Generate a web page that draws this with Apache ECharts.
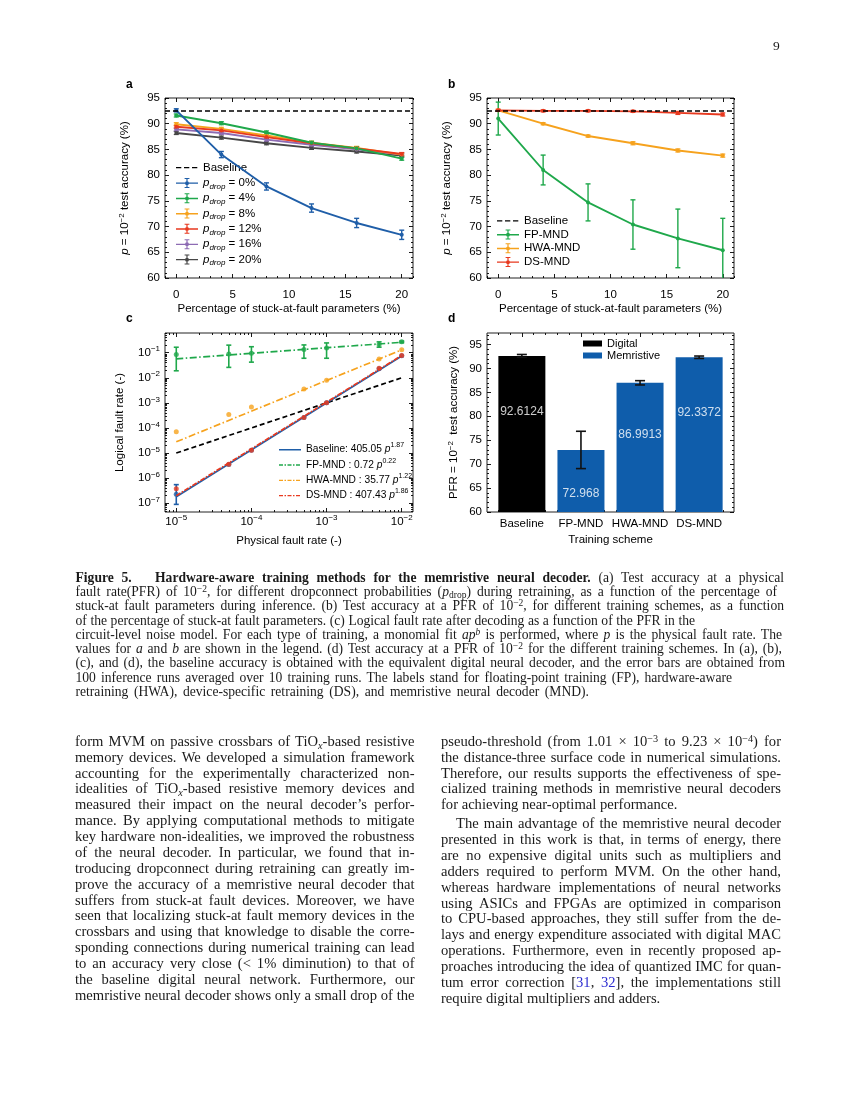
<!DOCTYPE html>
<html><head><meta charset="utf-8">
<script src="https://cdn.jsdelivr.net/npm/echarts@6/dist/echarts.min.js"></script>
<style>
html,body{margin:0;padding:0;background:#fff;}
#page{position:relative;width:850px;height:1100px;overflow:hidden;background:#fff;}
#chart{position:absolute;left:0;top:0;width:850px;height:1100px;}
.ln{position:absolute;font-family:"Liberation Serif","Times New Roman",serif;color:#1a1a1a;white-space:nowrap;}
.j{text-align:justify;text-align-last:justify;}
.ln sup{font-size:70%;vertical-align:0.42em;line-height:0;}
.ln sub{font-size:70%;vertical-align:-0.25em;line-height:0;}
.cite{color:#2b2bd0;}
</style></head>
<body><div id="page"><div id="chart"></div><div id="txt"></div></div>
<script>
// ---------------- DATA ----------------
// panel a / b : percentage of stuck-at-fault parameters
const pct = [0, 4, 8, 12, 16, 20];
const baselineAcc = 92.6124;
const accDrop0  = [92.6, 84.0, 77.8, 73.6, 70.7, 68.4];
const errDrop0  = [0.3, 0.6, 0.7, 0.8, 0.9, 0.9];
const accDrop4  = [91.6, 90.1, 88.3, 86.3, 85.2, 83.2];
const accDrop8  = [89.9, 89.0, 87.7, 86.3, 85.3, 84.0];
const accDrop12 = [89.4, 88.7, 87.4, 86.2, 85.2, 84.1];
const accDrop16 = [88.9, 88.2, 86.9, 85.9, 85.0, 84.0];
const accDrop20 = [88.2, 87.3, 86.2, 85.3, 84.6, 83.8];
const errDropSmall = [0.3, 0.3, 0.3, 0.3, 0.3, 0.3];

const accFP  = [91.0, 81.0, 74.7, 70.4, 67.7, 65.4];
const errFP  = [3.2, 2.9, 3.6, 4.8, 5.7, 6.2];
const accHWA = [92.6, 90.0, 87.6, 86.2, 84.8, 83.8];
const errHWA = [0.2, 0.2, 0.2, 0.3, 0.3, 0.3];
const accDS  = [92.6, 92.5, 92.5, 92.4, 92.1, 91.8];
const errDS  = [0.2, 0.2, 0.2, 0.2, 0.3, 0.3];

// panel c : physical vs logical fault rate
const pfr     = [1e-5, 5e-5, 1e-4, 5e-4, 1e-3, 5e-3, 1e-2];
const lfrBase = [2.3e-7, 3.5e-6, 1.3e-5, 2.6e-4, 1.0e-3, 2.3e-2, 7.5e-2];
const lfrBaseLo = [0.9e-7, 3.5e-6, 1.3e-5, 2.6e-4, 1.0e-3, 2.3e-2, 7.5e-2];
const lfrBaseHi = [5.5e-7, 3.5e-6, 1.3e-5, 2.6e-4, 1.0e-3, 2.3e-2, 7.5e-2];
const lfrFP   = [0.085, 0.088, 0.095, 0.135, 0.155, 0.21, 0.27];
const lfrFPLo = [0.019, 0.026, 0.042, 0.060, 0.060, 0.166, 0.25];
const lfrFPHi = [0.165, 0.200, 0.173, 0.204, 0.245, 0.270, 0.29];
const lfrHWA  = [7.0e-5, 3.4e-4, 6.8e-4, 3.6e-3, 8.0e-3, 5.6e-2, 1.3e-1];
const lfrDS   = [3.8e-7, 3.6e-6, 1.3e-5, 2.6e-4, 1.0e-3, 2.4e-2, 7.8e-2];
// monomial fit lines (end points)
const fitP    = [1e-5, 1e-2];
const fitBase = [1.8e-7, 7.4e-2];
const fitFP   = [0.057, 0.26];
const fitHWA  = [2.8e-5, 0.13];
const fitDS   = [2.0e-7, 7.8e-2];

// panel d : training schemes
const schemes   = ['Baseline', 'FP-MND', 'HWA-MND', 'DS-MND'];
const schemeAcc = [92.6124, 72.968, 86.9913, 92.3372];
const schemeErr = [0.3, 3.9, 0.45, 0.25];
const schemeLabels = ['92.6124', '72.968', '86.9913', '92.3372'];

// tick labels
const accTicks = [60, 65, 70, 75, 80, 85, 90, 95];
const pctTicks = [0, 5, 10, 15, 20];
const cXExp = [-5, -4, -3, -2];
const cYExp = [-7, -6, -5, -4, -3, -2, -1];
const dXTicks = [0, 1, 2, 3];

// ---------------- STYLE ----------------
const FONT = '"Liberation Sans", Arial, Helvetica, sans-serif';
const BLUE = '#1f5ea8', GREEN = '#1fa84b', ORANGE = '#f6a21d', RED = '#e8391f',
      PURPLE = '#8d6bb3', GREY = '#474747', BARBLUE = '#0f5dab';

function rich(fs, lh) {
  return {
    n: {fontFamily: FONT, fontSize: fs, lineHeight: lh, color: '#000'},
    i: {fontFamily: FONT, fontSize: fs, lineHeight: lh, fontStyle: 'italic', color: '#000'},
    s: {fontFamily: FONT, fontSize: Math.round(fs * 0.72), lineHeight: Math.round(fs * 0.6), verticalAlign: 'top', color: '#000'},
    b: {fontFamily: FONT, fontSize: Math.round(fs * 0.72), lineHeight: Math.round(fs * 0.6), verticalAlign: 'bottom', fontStyle: 'italic', color: '#000'}
  };
}
const L = Math.log10;
const MINUS = '\u2212';
const expTxt = v => (v < 0 ? MINUS + Math.abs(v) : String(v));

const X = [], Y = [];
function minorVals(min, max, step, major) {
  const out = [];
  for (let v = Math.ceil(min / step) * step; v <= max + 1e-9; v += step) {
    const r = Math.round(v * 1000) / 1000;
    if (!major.some(m => Math.abs(m - r) < 1e-6)) out.push(r);
  }
  return out;
}
function logMinor(lo, hi) {
  const out = [];
  for (let d = Math.floor(lo) - 1; d <= Math.ceil(hi); d++)
    for (let k = 2; k <= 9; k++) { const v = d + L(k); if (v > lo && v < hi) out.push(v); }
  return out;
}
function addAxes(dim, grid, min, max, major, minor, o) {
  const list = dim === 'x' ? X : Y;
  const pos = dim === 'x' ? ['bottom', 'top'] : ['left', 'right'];
  const idx = list.length;
  const mk = (p, vals, len, lab) => {
    const ax = {type: 'value', gridIndex: grid, min, max, position: p, silent: true,
      axisLine: {show: false, onZero: false}, splitLine: {show: false}, minorTick: {show: false},
      axisTick: {show: vals.length > 0, inside: true, length: len, customValues: vals, lineStyle: {color: '#000', width: 0.9}},
      axisLabel: {show: false, customValues: vals}};
    if (lab) {
      ax.axisLabel = {show: true, customValues: vals, formatter: o.fmt, margin: o.margin, color: '#000',
        fontFamily: FONT, fontSize: 11.5, lineHeight: o.lh || 13, rich: o.rich || rich(11.5, 13)};
      if (o.name) {
        ax.name = o.name; ax.nameLocation = 'middle'; ax.nameGap = o.nameGap;
        ax.nameTextStyle = {fontFamily: FONT, fontSize: 11.5, color: '#000', lineHeight: 14, rich: rich(11.5, 14)};
      }
    }
    return ax;
  };
  list.push(mk(pos[0], major, 4, true));
  list.push(mk(pos[0], minor, 2, false));
  list.push(mk(pos[1], major, 4, false));
  list.push(mk(pos[1], minor, 2, false));
  return idx;
}

const grids = [
  {left: 165, top: 98, width: 248, height: 180},
  {left: 487, top: 98, width: 247, height: 180},
  {left: 165, top: 333, width: 248, height: 179},
  {left: 487, top: 333, width: 247, height: 179}
].map(g => Object.assign(g, {show: true, borderColor: '#222', borderWidth: 1, backgroundColor: 'transparent', outerBoundsMode: 'none', containLabel: false}));

const pctTitle = 'Percentage of stuck-at-fault parameters (%)';
const accTitle = '{i|p} = 10{s|' + MINUS + '2} test accuracy (%)';
const aX = addAxes('x', 0, -1, 21, pctTicks, minorVals(-1, 21, 1, pctTicks), {fmt: v => String(v), margin: 10, name: pctTitle, nameGap: 21});
const aY = addAxes('y', 0, 60, 95, accTicks, minorVals(60, 95, 1, accTicks), {fmt: v => String(v), margin: 5, name: accTitle, nameGap: 33});
const bX = addAxes('x', 1, -1, 21, pctTicks, minorVals(-1, 21, 1, pctTicks), {fmt: v => String(v), margin: 10, name: pctTitle, nameGap: 21});
const bY = addAxes('y', 1, 60, 95, accTicks, minorVals(60, 95, 1, accTicks), {fmt: v => String(v), margin: 5, name: accTitle, nameGap: 33});
const expFmt = v => '{n|10}{s|' + expTxt(Math.round(v)) + '}';
const cX = addAxes('x', 2, -5.15, -1.85, cXExp, logMinor(-5.15, -1.85), {fmt: expFmt, margin: 2, lh: 15, rich: rich(11.5, 15), name: 'Physical fault rate (-)', nameGap: 22});
const cY = addAxes('y', 2, -7.35, -0.215, cYExp, logMinor(-7.35, -0.215), {fmt: expFmt, margin: 5, lh: 15, rich: rich(11.5, 15), name: 'Logical fault rate (-)', nameGap: 38});
const dX = addAxes('x', 3, -0.59, 3.59, dXTicks, minorVals(-0.59, 3.59, 0.2, dXTicks), {fmt: v => schemes[Math.round(v)], margin: 5, name: 'Training scheme', nameGap: 21});
const dY = addAxes('y', 3, 60, 97.4, accTicks, minorVals(60, 97.4, 1, accTicks), {fmt: v => String(v), margin: 5, name: 'PFR = 10{s|' + MINUS + '2}  test accuracy (%)', nameGap: 26});

// ---------------- SERIES ----------------
const series = [];
function lineS(name, xi, yi, xs, ys, color, z) {
  return {type: 'line', name, xAxisIndex: xi, yAxisIndex: yi, data: xs.map((x, i) => [x, ys[i]]),
    symbol: 'circle', symbolSize: 4, showSymbol: true, color, itemStyle: {color, borderWidth: 0},
    lineStyle: {color, width: 1.9}, z: z || 3, clip: true, animation: false};
}
function errS(xi, yi, rows, color, cap, lw, z) {
  return {type: 'custom', xAxisIndex: xi, yAxisIndex: yi, silent: true, z: z || 3, data: rows, animation: false,
    renderItem: (params, api) => {
      const x = api.value(0), lo = api.value(1), hi = api.value(2);
      if (!(hi > lo)) return null;
      const a = api.coord([x, lo]), b = api.coord([x, hi]);
      const cs = params.coordSys, yT = cs.y, yB = cs.y + cs.height;
      const st = {stroke: color, lineWidth: lw};
      const ch = [{type: 'line', shape: {x1: a[0], y1: Math.min(a[1], yB), x2: b[0], y2: Math.max(b[1], yT)}, style: st}];
      if (a[1] <= yB) ch.push({type: 'line', shape: {x1: a[0] - cap, y1: a[1], x2: a[0] + cap, y2: a[1]}, style: st});
      if (b[1] >= yT) ch.push({type: 'line', shape: {x1: b[0] - cap, y1: b[1], x2: b[0] + cap, y2: b[1]}, style: st});
      return {type: 'group', children: ch};
    }};
}
const symRows = (xs, ys, es) => xs.map((x, i) => [x, ys[i] - es[i], ys[i] + es[i]]);
function baseS(name, xi, yi) {
  return {type: 'line', name, xAxisIndex: xi, yAxisIndex: yi, data: [[pct[0], baselineAcc]], showSymbol: false,
    color: '#000', lineStyle: {color: '#000', width: 1.6, type: [5, 3]}, z: 2, animation: false,
    markLine: {silent: true, symbol: ['none', 'none'], label: {show: false}, animation: false,
      lineStyle: {color: '#000', width: 1.6, type: [5, 3]}, data: [{yAxis: baselineAcc}]}};
}
// panel a
series.push(baseS('aBase', aX, aY));
[['a20', accDrop20, GREY], ['a16', accDrop16, PURPLE], ['a8', accDrop8, ORANGE], ['a12', accDrop12, RED], ['a4', accDrop4, GREEN]].forEach(([n, d, c]) => {
  series.push(lineS(n, aX, aY, pct, d, c));
  series.push(errS(aX, aY, symRows(pct, d, errDropSmall), c, 2.5, 1.2));
});
series.push(lineS('a0', aX, aY, pct, accDrop0, BLUE, 4));
series.push(errS(aX, aY, symRows(pct, accDrop0, errDrop0), BLUE, 2.5, 1.4, 4));
// panel b
series.push(baseS('bBase', bX, bY));
series.push(lineS('bFP', bX, bY, pct, accFP, GREEN));
series.push(errS(bX, bY, symRows(pct, accFP, errFP), GREEN, 2.5, 1.4));
series.push(lineS('bHWA', bX, bY, pct, accHWA, ORANGE));
series.push(errS(bX, bY, symRows(pct, accHWA, errHWA), ORANGE, 2.5, 1.2));
series.push(lineS('bDS', bX, bY, pct, accDS, RED, 4));
series.push(errS(bX, bY, symRows(pct, accDS, errDS), RED, 2.5, 1.2, 4));
// panel c
const lx = pfr.map(L);
series.push({type: 'line', name: 'cThr', xAxisIndex: cX, yAxisIndex: cY, data: fitP.map(p => [L(p), L(p)]), showSymbol: false,
  color: '#000', lineStyle: {color: '#000', width: 1.7, type: [5, 3]}, z: 2, animation: false});
function fitS(name, fit, color, type, z) {
  return {type: 'line', name, xAxisIndex: cX, yAxisIndex: cY, data: fitP.map((p, i) => [L(p), L(fit[i])]), showSymbol: false,
    color, lineStyle: {color, width: 1.7, type}, z, animation: false};
}
function ptS(vals, color, z) {
  return {type: 'scatter', xAxisIndex: cX, yAxisIndex: cY, data: lx.map((x, i) => [x, L(vals[i])]), symbol: 'circle', symbolSize: 5,
    itemStyle: {color}, z, silent: true, animation: false};
}
const DASHDOT = [7, 2.5, 1.5, 2.5];
series.push(fitS('cFP', fitFP, GREEN, DASHDOT, 3));
series.push(ptS(lfrFP, GREEN, 3));
series.push(errS(cX, cY, lx.map((x, i) => [x, L(lfrFPLo[i]), L(lfrFPHi[i])]), GREEN, 2.5, 1.6, 3));
series.push(fitS('cHWA', fitHWA, ORANGE, DASHDOT, 3));
series.push(ptS(lfrHWA, ORANGE, 3));
series.push(fitS('cBase', fitBase, BLUE, 'solid', 4));
series.push(ptS(lfrBase, BLUE, 4));
series.push(errS(cX, cY, lx.map((x, i) => [x, L(lfrBaseLo[i]), L(lfrBaseHi[i])]), BLUE, 2.5, 1.6, 4));
series.push(fitS('cDS', fitDS, RED, [5, 1.5, 1.5, 1.5], 5));
series.push(ptS(lfrDS, RED, 5));
// panel d
series.push({type: 'bar', name: 'Digital', xAxisIndex: dX, yAxisIndex: dY, data: [[0, schemeAcc[0]]], barWidth: 47, barGap: '-100%',
  itemStyle: {color: '#000'}, z: 2, animation: false});
series.push({type: 'bar', name: 'Memristive', xAxisIndex: dX, yAxisIndex: dY, data: schemeAcc.slice(1).map((v, i) => [i + 1, v]), barWidth: 47, barGap: '-100%',
  itemStyle: {color: BARBLUE}, z: 2, animation: false});
series.push(errS(dX, dY, symRows(dXTicks, schemeAcc, schemeErr), '#111', 5, 1.6, 5));
const LABEL_FRAC = 0.875;
series.push({type: 'scatter', xAxisIndex: dX, yAxisIndex: dY, data: schemeAcc.map((v, i) => [i, v * LABEL_FRAC]), symbolSize: 0, silent: true, z: 6,
  label: {show: true, position: 'inside', formatter: p => schemeLabels[p.dataIndex], fontFamily: FONT, fontSize: 12,
    color: '#fff'}, animation: false});

// ---------------- LEGENDS ----------------
const EB = 'path://M0,0H0.01V0.01H0Z M0,5H22V6.4H0Z M10.4,0.5H11.6V10.5H10.4Z M8.6,0.5H13.4V1.5H8.6Z M8.6,9.5H13.4V10.5H8.6Z M13,5.7A2,2 0 1 1 9,5.7A2,2 0 1 1 13,5.7Z M21.99,10.99H22V11H21.99Z';
const DASH = 'path://M0,0H0.01V0.01H0Z M0,4.9H5.3V6.2H0Z M8,4.9H13.3V6.2H8Z M16,4.9H21.3V6.2H16Z M21.99,10.99H22V11H21.99Z';
const SOLID = 'path://M0,0H0.01V0.01H0Z M0,4.8H22V6.3H0Z M21.99,10.99H22V11H21.99Z';
const DDOT = 'path://M0,0H0.01V0.01H0Z M0,4.9H4H4V6.2H0Z M5.5,4.9H7V6.2H5.5Z M8.5,4.9H12.5V6.2H8.5Z M14,4.9H15.5V6.2H14Z M17,4.9H21V6.2H17Z M21.99,10.99H22V11H21.99Z';
const LBL = {
  aBase: 'Baseline', a0: '{i|p}{b|drop} = 0%', a4: '{i|p}{b|drop} = 4%', a8: '{i|p}{b|drop} = 8%',
  a12: '{i|p}{b|drop} = 12%', a16: '{i|p}{b|drop} = 16%', a20: '{i|p}{b|drop} = 20%',
  bBase: 'Baseline', bFP: 'FP-MND', bHWA: 'HWA-MND', bDS: 'DS-MND',
  cBase: 'Baseline: 405.05 {i|p}{s|1.87}', cFP: 'FP-MND : 0.72 {i|p}{s|0.22}',
  cHWA: 'HWA-MND : 35.77 {i|p}{s|1.22}', cDS: 'DS-MND : 407.43 {i|p}{s|1.86}',
  Digital: 'Digital', Memristive: 'Memristive'
};
function legend(left, top, lh, data, iw, ih, fs) {
  fs = fs || 11.5;
  return {left, top, orient: 'vertical', itemWidth: iw || 22, itemHeight: ih || 11, itemGap: 0, selectedMode: false,
    padding: 0, symbolKeepAspect: false, itemStyle: {borderWidth: 0}, data, formatter: n => LBL[n],
    textStyle: {fontFamily: FONT, fontSize: fs, color: '#000', lineHeight: lh, rich: rich(fs, lh)}};
}
const legends = [
  legend(176, 160, 15.3, [{name: 'aBase', icon: DASH}, {name: 'a0', icon: EB}, {name: 'a4', icon: EB}, {name: 'a8', icon: EB},
    {name: 'a12', icon: EB}, {name: 'a16', icon: EB}, {name: 'a20', icon: EB}]),
  legend(497, 214, 13.7, [{name: 'bBase', icon: DASH}, {name: 'bFP', icon: EB}, {name: 'bHWA', icon: EB}, {name: 'bDS', icon: EB}]),
  legend(279, 442, 15.3, [{name: 'cBase', icon: SOLID}, {name: 'cFP', icon: DDOT}, {name: 'cHWA', icon: DDOT}, {name: 'cDS', icon: DDOT}], 22, 11, 10.2),
  legend(583, 337.5, 12, [{name: 'Digital', icon: 'rect'}, {name: 'Memristive', icon: 'rect'}], 19, 6, 11)
];

const panelLetters = [['a', 126, 79], ['b', 448, 79], ['c', 126, 313], ['d', 448, 313]];
const graphic = panelLetters.map(([t, x, y]) => ({type: 'text', left: x, top: y, silent: true,
  style: {text: t, fill: '#000', font: 'bold 12px ' + FONT}}));

const chart = echarts.init(document.getElementById('chart'), null, {renderer: 'canvas'});
chart.setOption({animation: false, backgroundColor: 'transparent', grid: grids, xAxis: X, yAxis: Y,
  series, legend: legends, graphic, tooltip: {show: false}});

// ---------------- PAGE TEXT ----------------
const captionLines = [
  '<b>Figure 5.&nbsp;&nbsp; Hardware-aware training methods for the memristive neural decoder.</b> (a) Test accuracy at a physical',
  'fault rate(PFR) of 10<sup>\u22122</sup>, for different dropconnect probabilities (<i>p</i><sub>drop</sub>) during retraining, as a function of the percentage of',
  'stuck-at fault parameters during inference. (b) Test accuracy at a PFR of 10<sup>\u22122</sup>, for different training schemes, as a function',
  'of the percentage of stuck-at fault parameters. (c) Logical fault rate after decoding as a function of the PFR in the',
  'circuit-level noise model. For each type of training, a monomial fit <i>ap<sup>b</sup></i> is performed, where <i>p</i> is the physical fault rate. The',
  'values for <i>a</i> and <i>b</i> are shown in the legend. (d) Test accuracy at a PFR of 10<sup>\u22122</sup> for the different training schemes. In (a), (b),',
  '(c), and (d), the baseline accuracy is obtained with the equivalent digital neural decoder, and the error bars are obtained from',
  '100 inference runs averaged over 10 training runs. The labels stand for floating-point training (FP), hardware-aware',
  'retraining (HWA), device-specific retraining (DS), and memristive neural decoder (MND).'
];
const captionEnds = [784, 777, 784, 695, 782, 782, 785, 732, 589];
const leftLines = [
  'form MVM on passive crossbars of TiO<sub><i>x</i></sub>-based resistive',
  'memory devices. We developed a simulation framework',
  'accounting for the experimentally characterized non-',
  'idealities of TiO<sub><i>x</i></sub>-based resistive memory devices and',
  'measured their impact on the neural decoder\u2019s perfor-',
  'mance. By applying computational methods to mitigate',
  'key hardware non-idealities, we improved the robustness',
  'of the neural decoder. In particular, we found that in-',
  'troducing dropconnect during retraining can greatly im-',
  'prove the accuracy of a memristive neural decoder that',
  'suffers from stuck-at fault devices. Moreover, we have',
  'seen that localizing stuck-at fault memory devices in the',
  'crossbars and using that knowledge to disable the corre-',
  'sponding connections during numerical training can lead',
  'to an accuracy very close (&lt; 1% diminution) to that of',
  'the baseline digital neural network. Furthermore, our',
  'memristive neural decoder shows only a small drop of the'
];
const rightLines = [
  'pseudo-threshold (from 1.01 \u00d7 10<sup>\u22123</sup> to 9.23 \u00d7 10<sup>\u22124</sup>) for',
  'the distance-three surface code in numerical simulations.',
  'Therefore, our results supports the effectiveness of spe-',
  'cialized training methods in memristive neural decoders',
  '!for achieving near-optimal performance.',
  '>The main advantage of the memristive neural decoder',
  'presented in this work is that, in terms of energy, there',
  'are no expensive digital units such as multipliers and',
  'adders required to perform MVM. On the other hand,',
  'whereas hardware implementations of neural networks',
  'using ASICs and FPGAs are optimized in comparison',
  'to CPU-based approaches, they still suffer from the de-',
  'lays and energy expenditure associated with digital MAC',
  'operations. Furthermore, even in recently proposed ap-',
  'proaches introducing the idea of quantized IMC for quan-',
  'tum error correction [<span class="cite">31</span>, <span class="cite">32</span>], the implementations still',
  '!require digital multipliers and adders.'
];
const txt = document.getElementById('txt');
function put(html, x, yc, w, fs, lh, just) {
  const d = document.createElement('div');
  d.className = 'ln' + (just ? ' j' : '');
  d.style.left = x + 'px'; d.style.top = (yc - lh / 2) + 'px';
  d.style.fontSize = fs + 'px'; d.style.lineHeight = lh + 'px';
  if (w) d.style.width = w + 'px';
  d.innerHTML = html;
  txt.appendChild(d);
}
captionLines.forEach((h, i) => put(h, 75.5, 578 + i * 14.25, captionEnds[i] - 75.5, 13.6, 14.25, true));
leftLines.forEach((h, i) => put(h, 75, 741.8 + i * 15.87, 339.5, 14.6, 15.87, true));
let yy = 741.8;
rightLines.forEach((h, i) => {
  let just = true, x = 441, w = 340;
  if (h[0] === '!') { just = false; h = h.slice(1); }
  if (h[0] === '>') { x += 15; w -= 15; h = h.slice(1); yy += 3; }
  put(h, x, yy, just ? w : null, 14.6, 15.87, just);
  yy += 15.87;
});
put('9', 773, 46, null, 13.5, 16, false);
</script></body></html>
